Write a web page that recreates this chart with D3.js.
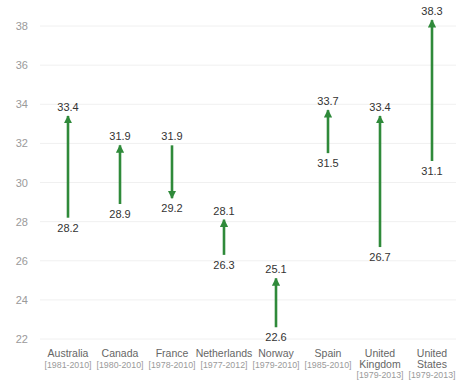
<!DOCTYPE html>
<html>
<head>
<meta charset="utf-8">
<script src="https://cdn.jsdelivr.net/npm/d3@7"></script>
<style>
  body { margin: 0; background: #fff; }
  svg { font-family: "Liberation Sans", Arial, sans-serif; }
</style>
</head>
<body>
<svg width="474" height="385"></svg>
<script>
let countries = ["Australia", "Canada", "France", "Netherlands", "Norway", "Spain", "United Kingdom", "United States"];
let periods = ["[1981-2010]", "[1980-2010]", "[1978-2010]", "[1977-2012]", "[1979-2010]", "[1985-2010]", "[1979-2013]", "[1979-2013]"];
let startValues = [28.2, 28.9, 31.9, 26.3, 22.6, 31.5, 26.7, 31.1];
let endValues = [33.4, 31.9, 29.2, 28.1, 25.1, 33.7, 33.4, 38.3];
let yTicks = [22, 24, 26, 28, 30, 32, 34, 36, 38];

let svg = d3.select("svg");
let green = "#2f8a3a";

let x = d3.scaleBand().domain(countries).range([42, 458]);
let y = d3.scaleLinear().domain([22, 38]).range([339, 26]);

// grid
svg.append("g").selectAll("line")
    .data(yTicks)
    .enter().append("line")
    .attr("x1", 40).attr("x2", 456)
    .attr("y1", d => y(d)).attr("y2", d => y(d))
    .attr("stroke", "#f0f0f0").attr("stroke-width", 1);

let yAxis = svg.append("g")
    .attr("transform", "translate(28,0)")
    .call(d3.axisLeft(y).tickValues(yTicks).tickSize(0).tickPadding(0));
yAxis.select(".domain").remove();
yAxis.selectAll("text").attr("fill", "#9a9a9a").style("font-size", "11px")
    .style("font-family", "Liberation Sans, Arial, sans-serif");

svg.append("defs").append("marker")
    .attr("id", "head")
    .attr("viewBox", "0 0 10 10")
    .attr("refX", 9).attr("refY", 5)
    .attr("markerWidth", 3.2).attr("markerHeight", 3.2)
    .attr("markerUnits", "strokeWidth")
    .attr("orient", "auto")
    .append("path").attr("d", "M0,0L10,5L0,10Z").attr("fill", green);

let data = countries.map((c, i) => ({name: c, period: periods[i], from: startValues[i], to: endValues[i]}));

let g = svg.append("g").selectAll("g").data(data).enter().append("g");

g.append("line")
    .attr("x1", d => x(d.name) + x.bandwidth() / 2)
    .attr("x2", d => x(d.name) + x.bandwidth() / 2)
    .attr("y1", d => y(d.from))
    .attr("y2", d => y(d.to))
    .attr("stroke", green).attr("stroke-width", 2.6)
    .attr("marker-end", "url(#head)");

// upper label
g.append("text")
    .attr("x", d => x(d.name) + x.bandwidth() / 2)
    .attr("y", d => y(Math.max(d.from, d.to)) - 5)
    .attr("text-anchor", "middle")
    .attr("fill", "#333").style("font-size", "11px")
    .text(d => d3.max([d.from, d.to]).toFixed(1));

// lower label
g.append("text")
    .attr("x", d => x(d.name) + x.bandwidth() / 2)
    .attr("y", d => y(Math.min(d.from, d.to)) + 14)
    .attr("text-anchor", "middle")
    .attr("fill", "#333").style("font-size", "11px")
    .text(d => d3.min([d.from, d.to]).toFixed(1));

// category labels
let cat = g.append("text")
    .attr("text-anchor", "middle")
    .attr("fill", "#666");
cat.each(function (d) {
    let t = d3.select(this);
    let cx = x(d.name) + x.bandwidth() / 2;
    let words = d.name.startsWith("United") ? d.name.split(" ") : [d.name];
    words.forEach((w, i) => {
        t.append("tspan").attr("x", cx).attr("y", 357 + i * 11).style("font-size", "10.5px").text(w);
    });
    t.append("tspan").attr("x", cx).attr("y", 357 + words.length * 10.5)
        .style("font-size", "8.8px").attr("fill", "#9a9a9a").text(d.period);
});
</script>
</body>
</html>
